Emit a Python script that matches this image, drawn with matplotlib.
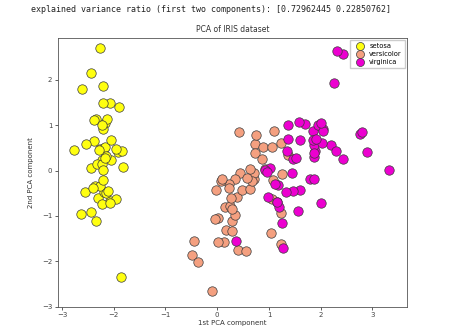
import numpy as np
import matplotlib
matplotlib.use("Agg")
import matplotlib.pyplot as plt

# Fisher's iris measurements: sepal length, sepal width, petal length, petal width (cm)
setosa = [
    [5.1, 3.5, 1.4, 0.2], [4.9, 3.0, 1.4, 0.2], [4.7, 3.2, 1.3, 0.2], [4.6, 3.1, 1.5, 0.2],
    [5.0, 3.6, 1.4, 0.2], [5.4, 3.9, 1.7, 0.4], [4.6, 3.4, 1.4, 0.3], [5.0, 3.4, 1.5, 0.2],
    [4.4, 2.9, 1.4, 0.2], [4.9, 3.1, 1.5, 0.1], [5.4, 3.7, 1.5, 0.2], [4.8, 3.4, 1.6, 0.2],
    [4.8, 3.0, 1.4, 0.1], [4.3, 3.0, 1.1, 0.1], [5.8, 4.0, 1.2, 0.2], [5.7, 4.4, 1.5, 0.4],
    [5.4, 3.9, 1.3, 0.4], [5.1, 3.5, 1.4, 0.3], [5.7, 3.8, 1.7, 0.3], [5.1, 3.8, 1.5, 0.3],
    [5.4, 3.4, 1.7, 0.2], [5.1, 3.7, 1.5, 0.4], [4.6, 3.6, 1.0, 0.2], [5.1, 3.3, 1.7, 0.5],
    [4.8, 3.4, 1.9, 0.2], [5.0, 3.0, 1.6, 0.2], [5.0, 3.4, 1.6, 0.4], [5.2, 3.5, 1.5, 0.2],
    [5.2, 3.4, 1.4, 0.2], [4.7, 3.2, 1.6, 0.2], [4.8, 3.1, 1.6, 0.2], [5.4, 3.4, 1.5, 0.4],
    [5.2, 4.1, 1.5, 0.1], [5.5, 4.2, 1.4, 0.2], [4.9, 3.1, 1.5, 0.2], [5.0, 3.2, 1.2, 0.2],
    [5.5, 3.5, 1.3, 0.2], [4.9, 3.6, 1.4, 0.1], [4.4, 3.0, 1.3, 0.2], [5.1, 3.4, 1.5, 0.2],
    [5.0, 3.5, 1.3, 0.3], [4.5, 2.3, 1.3, 0.3], [4.4, 3.2, 1.3, 0.2], [5.0, 3.5, 1.6, 0.6],
    [5.1, 3.8, 1.9, 0.4], [4.8, 3.0, 1.4, 0.3], [5.1, 3.8, 1.6, 0.2], [4.6, 3.2, 1.4, 0.2],
    [5.3, 3.7, 1.5, 0.2], [5.0, 3.3, 1.4, 0.2],
]
versicolor = [
    [7.0, 3.2, 4.7, 1.4], [6.4, 3.2, 4.5, 1.5], [6.9, 3.1, 4.9, 1.5], [5.5, 2.3, 4.0, 1.3],
    [6.5, 2.8, 4.6, 1.5], [5.7, 2.8, 4.5, 1.3], [6.3, 3.3, 4.7, 1.6], [4.9, 2.4, 3.3, 1.0],
    [6.6, 2.9, 4.6, 1.3], [5.2, 2.7, 3.9, 1.4], [5.0, 2.0, 3.5, 1.0], [5.9, 3.0, 4.2, 1.5],
    [6.0, 2.2, 4.0, 1.0], [6.1, 2.9, 4.7, 1.4], [5.6, 2.9, 3.6, 1.3], [6.7, 3.1, 4.4, 1.4],
    [5.6, 3.0, 4.5, 1.5], [5.8, 2.7, 4.1, 1.0], [6.2, 2.2, 4.5, 1.5], [5.6, 2.5, 3.9, 1.1],
    [5.9, 3.2, 4.8, 1.8], [6.1, 2.8, 4.0, 1.3], [6.3, 2.5, 4.9, 1.5], [6.1, 2.8, 4.7, 1.2],
    [6.4, 2.9, 4.3, 1.3], [6.6, 3.0, 4.4, 1.4], [6.8, 2.8, 4.8, 1.4], [6.7, 3.0, 5.0, 1.7],
    [6.0, 2.9, 4.5, 1.5], [5.7, 2.6, 3.5, 1.0], [5.5, 2.4, 3.8, 1.1], [5.5, 2.4, 3.7, 1.0],
    [5.8, 2.7, 3.9, 1.2], [6.0, 2.7, 5.1, 1.6], [5.4, 3.0, 4.5, 1.5], [6.0, 3.4, 4.5, 1.6],
    [6.7, 3.1, 4.7, 1.5], [6.3, 2.3, 4.4, 1.3], [5.6, 3.0, 4.1, 1.3], [5.5, 2.5, 4.0, 1.3],
    [5.5, 2.6, 4.4, 1.2], [6.1, 3.0, 4.6, 1.4], [5.8, 2.6, 4.0, 1.2], [5.0, 2.3, 3.3, 1.0],
    [5.6, 2.7, 4.2, 1.3], [5.7, 3.0, 4.2, 1.2], [5.7, 2.9, 4.2, 1.3], [6.2, 2.9, 4.3, 1.3],
    [5.1, 2.5, 3.0, 1.1], [5.7, 2.8, 4.1, 1.3],
]
virginica = [
    [6.3, 3.3, 6.0, 2.5], [5.8, 2.7, 5.1, 1.9], [7.1, 3.0, 5.9, 2.1], [6.3, 2.9, 5.6, 1.8],
    [6.5, 3.0, 5.8, 2.2], [7.6, 3.0, 6.6, 2.1], [4.9, 2.5, 4.5, 1.7], [7.3, 2.9, 6.3, 1.8],
    [6.7, 2.5, 5.8, 1.8], [7.2, 3.6, 6.1, 2.5], [6.5, 3.2, 5.1, 2.0], [6.4, 2.7, 5.3, 1.9],
    [6.8, 3.0, 5.5, 2.1], [5.7, 2.5, 5.0, 2.0], [5.8, 2.8, 5.1, 2.4], [6.4, 3.2, 5.3, 2.3],
    [6.5, 3.0, 5.5, 1.8], [7.7, 3.8, 6.7, 2.2], [7.7, 2.6, 6.9, 2.3], [6.0, 2.2, 5.0, 1.5],
    [6.9, 3.2, 5.7, 2.3], [5.6, 2.8, 4.9, 2.0], [7.7, 2.8, 6.7, 2.0], [6.3, 2.7, 4.9, 1.8],
    [6.7, 3.3, 5.7, 2.1], [7.2, 3.2, 6.0, 1.8], [6.2, 2.8, 4.8, 1.8], [6.1, 3.0, 4.9, 1.8],
    [6.4, 2.8, 5.6, 2.1], [7.2, 3.0, 5.8, 1.6], [7.4, 2.8, 6.1, 1.9], [7.9, 3.8, 6.4, 2.0],
    [6.4, 2.8, 5.6, 2.2], [6.3, 2.8, 5.1, 1.5], [6.1, 2.6, 5.6, 1.4], [7.7, 3.0, 6.1, 2.3],
    [6.3, 3.4, 5.6, 2.4], [6.4, 3.1, 5.5, 1.8], [6.0, 3.0, 4.8, 1.8], [6.9, 3.1, 5.4, 2.1],
    [6.7, 3.1, 5.6, 2.4], [6.9, 3.1, 5.1, 2.3], [5.8, 2.7, 5.1, 1.9], [6.8, 3.2, 5.9, 2.3],
    [6.7, 3.3, 5.7, 2.5], [6.7, 3.0, 5.2, 2.3], [6.3, 2.5, 5.0, 1.9], [6.5, 3.0, 5.2, 2.0],
    [6.2, 3.4, 5.4, 2.3], [5.9, 3.0, 5.1, 1.8],
]
target_names = ["setosa", "versicolor", "virginica"]
colors = ["#ffff10", "#f4a080", "#ec00d0"]
variance_text = "explained variance ratio (first two components): [0.72962445 0.22850762]"

groups = [np.array(g) for g in (setosa, versicolor, virginica)]
X = np.vstack(groups)

# standardise, then project on the first two principal axes
Xs = (X - X.mean(axis=0)) / X.std(axis=0)
_, _, vt = np.linalg.svd(Xs, full_matrices=False)
comps = vt[:2]
if comps[0, 2] < 0:
    comps[0] = -comps[0]
if comps[1, 1] < 0:
    comps[1] = -comps[1]
X_r = Xs @ comps.T

labels = np.repeat(np.arange(3), [len(g) for g in groups])

fig = plt.figure(figsize=(4.74, 3.35), dpi=100)
ax = fig.add_axes([0.122, 0.084, 0.737, 0.803])

for i, (name, c) in enumerate(zip(target_names, colors)):
    pts = X_r[labels == i]
    ax.scatter(pts[:, 0], pts[:, 1], s=46, c=c, edgecolors="#3a3a3a",
               linewidths=0.5, label=name)

ax.set_xlim(-3.08, 3.67)
ax.set_ylim(-3.0, 2.92)
ax.set_xticks([-3, -2, -1, 0, 1, 2, 3])
ax.set_yticks([-3, -2, -1, 0, 1, 2])
ax.tick_params(labelsize=5, length=2.5, width=0.6, colors="#444444", pad=1.5)
for sp in ax.spines.values():
    sp.set_linewidth(0.6)
    sp.set_color("#555555")

ax.set_title("PCA of IRIS dataset", fontsize=5.5, color="#333333", pad=4)
ax.set_xlabel("1st PCA component", fontsize=5, color="#333333", labelpad=1)
ax.set_ylabel("2nd PCA component", fontsize=5, color="#333333", labelpad=6)

leg = ax.legend(loc="upper right", fontsize=4.8, markerscale=0.85, borderpad=0.5,
                handletextpad=0.4, labelspacing=0.25, framealpha=1,
                edgecolor="#cccccc", fancybox=False, borderaxespad=0.3)

fig.text(0.065, 0.972, variance_text, family="DejaVu Sans Mono", fontsize=6,
         color="#222222", va="center", ha="left")

fig.savefig("out.png", dpi=100)
